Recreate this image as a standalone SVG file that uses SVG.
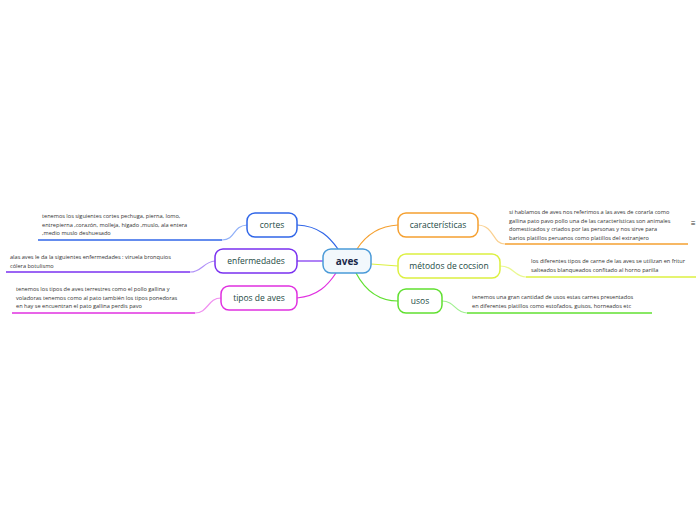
<svg xmlns="http://www.w3.org/2000/svg" width="696" height="520" viewBox="0 0 696 520">
<style>
.n{stroke-width:1.5;fill:#fff}
.t{font-family:"Open Sans","Noto Sans",sans-serif;font-size:8.5px;fill:#1d4a45;text-anchor:middle}
.s{font-family:"Open Sans","Noto Sans",sans-serif;font-size:5.6px;fill:#333}
.c{fill:none;stroke-width:1.2}
.u{fill:none;stroke-width:1.5}
</style>
<rect width="696" height="520" fill="#fff"/>
<g id="connectors">
<path class="c" stroke="#3066e8" d="M297,225 C320,226 330,238 338,249"/>
<path class="c" stroke="#7a30f0" d="M297,261 L323,261"/>
<path class="c" stroke="#e030e0" d="M297,298 C318,296 328,285 336,273"/>
<path class="c" stroke="#f5a030" d="M357,249 C366,235 378,226 398,225"/>
<path class="c" stroke="#dcf040" d="M371,264 L398,266"/>
<path class="c" stroke="#60e030" d="M356,273 C365,290 378,301 398,301"/>
<path class="c" stroke="#90b0f8" d="M247,225 C232,226 236,240 222,240"/>
<path class="u" stroke="#3066e8" d="M38,240 L222,240"/>
<path class="c" stroke="#b090f8" d="M215,261 C203,262 202,272 190,272"/>
<path class="u" stroke="#7a30f0" d="M6,272 L190,272"/>
<path class="c" stroke="#f090f0" d="M221,298 C208,298 208,313 195,313"/>
<path class="u" stroke="#e030e0" d="M12,313 L195,313"/>
<path class="c" stroke="#fad090" d="M478,225 C495,226 492,244 505,244"/>
<path class="u" stroke="#f5a030" d="M505,244 L688,244"/>
<path class="c" stroke="#eaf890" d="M500,266 C514,266 514,277 526,277"/>
<path class="u" stroke="#dcf040" d="M526,277 L696,277"/>
<path class="c" stroke="#a0f090" d="M442,301 C455,301 455,313 467,313"/>
<path class="u" stroke="#60e030" d="M467,313 L652,313"/>
</g>
<g id="aves"><rect class="n" x="323" y="249" width="48" height="24" rx="8" fill="#f2f8fc" stroke="#4a9ad8" style="fill:#f2f8fc"/><text class="t" x="347" y="265" style="font-size:10px;font-weight:bold;fill:#1b2a4a">aves</text></g>
<g id="cortes"><rect class="n" x="247" y="213" width="50" height="24" rx="8" stroke="#3066e8"/><text class="t" x="272" y="228">cortes</text>
<text class="s" x="42" y="218">tenemos los siguientes cortes pechuga, pierna, lomo,</text><text class="s" x="42" y="226.5">entrepierna ,corazón, molleja, hígado ,muslo, ala entera</text><text class="s" x="42" y="235">,medio muslo deshuesado</text></g>
<g id="enfermedades"><rect class="n" x="215" y="249" width="82" height="24" rx="8" stroke="#7a30f0"/><text class="t" x="256" y="264">enfermedades</text>
<text class="s" x="10" y="259">alas aves le da la siguientes enfermedades : viruela bronquios</text><text class="s" x="10" y="268">cólera botulismo</text></g>
<g id="tipos"><rect class="n" x="221" y="286" width="76" height="24" rx="8" stroke="#e030e0"/><text class="t" x="259" y="301">tipos de aves</text>
<text class="s" x="16" y="291">tenemos los tipos de aves terrestres como el pollo gallina y</text><text class="s" x="16" y="299.5">voladoras tenemos como al pato también los tipos ponedoras</text><text class="s" x="16" y="308">en hay se encuentran el pato gallina perdis pavo</text></g>
<g id="caracteristicas"><rect class="n" x="398" y="213" width="80" height="24" rx="8" stroke="#f5a030"/><text class="t" x="438" y="228">características</text>
<text class="s" x="509" y="214">si hablamos de aves nos referimos a las aves de corarla como</text><text class="s" x="509" y="222.5">gallina pato pavo pollo una de las características son animales</text><text class="s" x="509" y="231">domesticados y criados por las personas y nos sirve para</text><text class="s" x="509" y="239.5">barios platillos peruanos como platillos del extranjero</text>
<text class="s" x="691" y="226" style="font-size:8px">≡</text></g>
<g id="metodos"><rect class="n" x="398" y="254" width="102" height="24" rx="8" stroke="#dcf040"/><text class="t" x="449" y="269">métodos de cocsion</text>
<text class="s" x="531" y="263">los diferentes tipos de carne de las aves se utilizan en fritur</text><text class="s" x="531" y="272">salteados blanqueados confitado al horno parilla</text></g>
<g id="usos"><rect class="n" x="398" y="289" width="44" height="24" rx="8" stroke="#60e030"/><text class="t" x="420" y="304">usos</text>
<text class="s" x="472" y="299">tenemos una gran cantidad de usos estas carnes presentados</text><text class="s" x="472" y="307.5">en diferentes platillos como estofados, guisos,  horneados etc</text></g>
</svg>
